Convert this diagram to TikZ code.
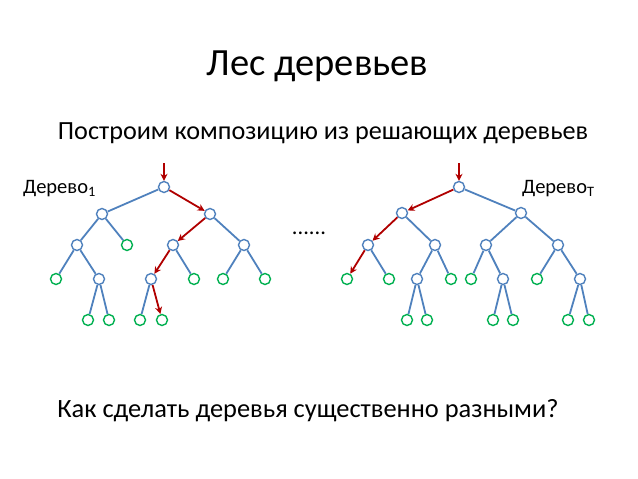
\documentclass[tikz,border=0pt]{standalone}
\usepackage{fontspec}
\setmainfont{Carlito}
\usetikzlibrary{arrows.meta}
\definecolor{eblue}{HTML}{4F81BD}
\definecolor{egreen}{HTML}{00B050}
\definecolor{ered}{HTML}{B00000}
\begin{document}
\begin{tikzpicture}[x=1pt,y=-1pt,
  inner/.style={circle,draw=eblue,line width=1.4pt,fill=white,minimum size=11pt,inner sep=0pt},
  leaf/.style={circle,draw=egreen,line width=1.4pt,fill=white,minimum size=11pt,inner sep=0pt},
  edge/.style={draw=eblue,line width=1.8pt},
  path/.style={draw=ered,line width=1.8pt,-{Stealth[length=7pt,width=7pt]}}]
\useasboundingbox (0,0) rectangle (638,479);
\node[anchor=base,inner sep=0pt] (title) at (317.5,75) {\fontsize{38.5}{44}\selectfont Лес деревьев};
\node[anchor=base,inner sep=0pt] (sub) at (323,139) {\fontsize{26.2}{31}\selectfont Построим композицию из решающих деревьев};
\node[anchor=base,inner sep=0pt] (q) at (308,417) {\fontsize{26.4}{31}\selectfont Как сделать деревья существенно разными?};
\node[anchor=base west,inner sep=0pt] (t1) at (23,193) {\fontsize{20.5}{24}\selectfont Дерево\textsubscript{1}};
\node[anchor=base west,inner sep=0pt] (tT) at (522,193) {\fontsize{20.5}{24}\selectfont Дерево\textsubscript{T}};
\node[anchor=base,inner sep=0pt] (dots) at (309,234) {\fontsize{22.5}{26}\selectfont ......};
% left tree
\node[inner] (a0) at (164,187) {};
\node[inner] (a1) at (102,214) {};
\node[inner] (a2) at (210,214) {};
\node[inner] (a3) at (77,245) {};
\node[leaf]  (a4) at (127,245) {};
\node[inner] (a5) at (173,245) {};
\node[inner] (a6) at (244,245) {};
\node[leaf]  (a7) at (56,279) {};
\node[inner] (a8) at (99,279) {};
\node[inner] (a9) at (151,279) {};
\node[leaf]  (a10) at (194,279) {};
\node[leaf]  (a11) at (223,279) {};
\node[leaf]  (a12) at (265,279) {};
\node[leaf]  (a13) at (88,320) {};
\node[leaf]  (a14) at (109,320) {};
\node[leaf]  (a15) at (140,320) {};
\node[leaf]  (a16) at (162,320) {};
\coordinate (ain) at (164,163);
\draw[edge] (a0)--(a1) (a1)--(a3) (a1)--(a4) (a2)--(a6) (a3)--(a7) (a3)--(a8)
  (a5)--(a10) (a6)--(a11) (a6)--(a12) (a8)--(a13) (a8)--(a14) (a9)--(a15);
\draw[path] (ain)--(a0);
\draw[path] (a0)--(a2);
\draw[path] (a2)--(a5);
\draw[path] (a5)--(a9);
\draw[path] (a9)--(a16);
% right tree
\node[inner] (b0) at (459,187) {};
\node[inner] (b1) at (402,213) {};
\node[inner] (b2) at (521,213) {};
\node[inner] (b3) at (368,245) {};
\node[inner] (b4) at (435,245) {};
\node[inner] (b5) at (486,245) {};
\node[inner] (b6) at (558,245) {};
\node[leaf]  (b7) at (347,279) {};
\node[leaf]  (b8) at (389,279) {};
\node[inner] (b9) at (417,279) {};
\node[leaf]  (b10) at (451,279) {};
\node[leaf]  (b11) at (471,279) {};
\node[inner] (b12) at (503,279) {};
\node[leaf]  (b13) at (537,279) {};
\node[inner] (b14) at (580,279) {};
\node[leaf]  (b15) at (407,320) {};
\node[leaf]  (b16) at (427,320) {};
\node[leaf]  (b17) at (493,320) {};
\node[leaf]  (b18) at (513,320) {};
\node[leaf]  (b19) at (568,320) {};
\node[leaf]  (b20) at (589,320) {};
\coordinate (bin) at (459,163);
\draw[edge] (b0)--(b2) (b1)--(b4) (b3)--(b8) (b4)--(b9) (b4)--(b10)
  (b2)--(b5) (b2)--(b6) (b5)--(b11) (b5)--(b12) (b6)--(b13) (b6)--(b14)
  (b9)--(b15) (b9)--(b16) (b12)--(b17) (b12)--(b18) (b14)--(b19) (b14)--(b20);
\draw[path] (bin)--(b0);
\draw[path] (b0)--(b1);
\draw[path] (b1)--(b3);
\draw[path] (b3)--(b7);
\end{tikzpicture}
\end{document}
